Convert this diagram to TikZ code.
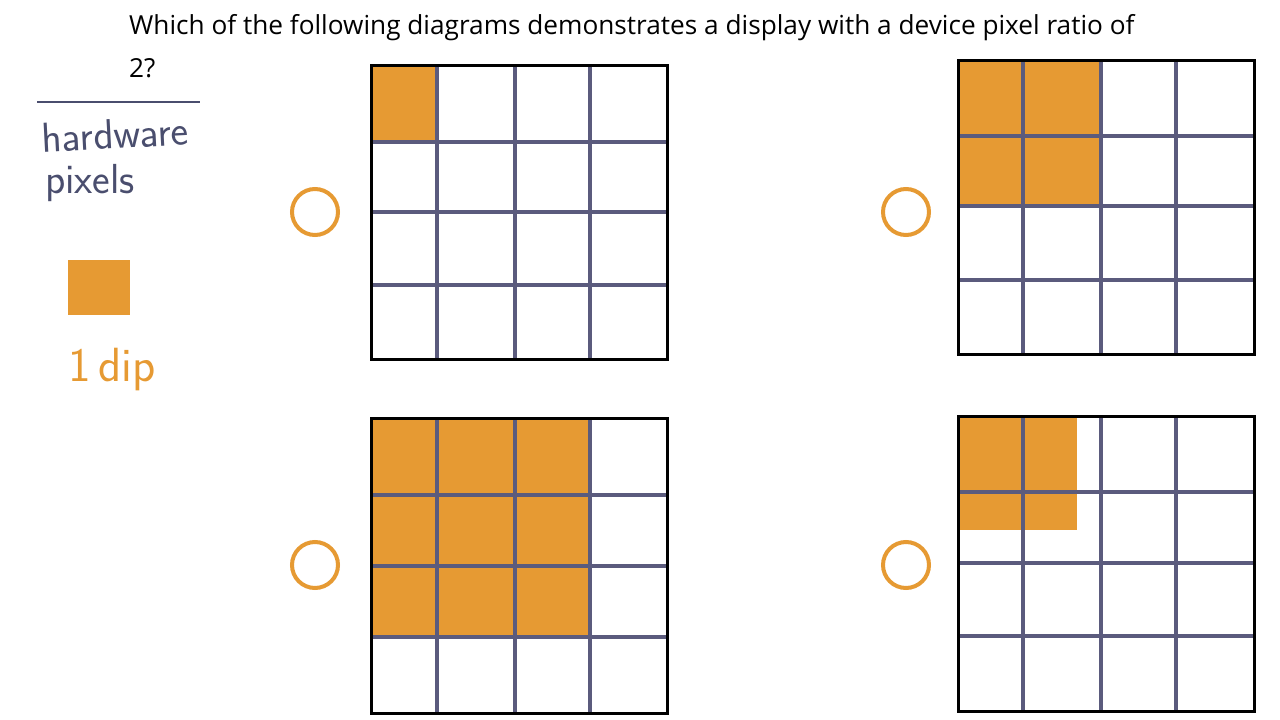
\documentclass[tikz,border=0pt]{standalone}
\usepackage{fontspec}
\setmainfont{Open Sans}
\definecolor{org}{HTML}{E69A33}
\definecolor{gridc}{HTML}{5B5B7D}
\definecolor{hand}{HTML}{4A4E6E}
\tikzset{ring/.style={draw=org,line width=4pt,circle,minimum size=46pt,inner sep=0pt},
 inl/.style={draw=gridc,line width=3.5pt},
 outl/.style={draw=black,line width=3pt}}
\newcommand{\gridbox}[7]{% x0 y0 x1 y1 xs(list) ys(list) name
 \draw[inl] foreach \xx in {#5} {(\xx,#2)--(\xx,#4)};
 \draw[inl] foreach \yy in {#6} {(#1,\yy)--(#3,\yy)};
 \node[outl,minimum width=#3pt-#1pt,minimum height=#4pt-#2pt,inner sep=0pt,anchor=north west] (#7) at (#1,#2) {};}
\begin{document}
\begin{tikzpicture}[x=1pt,y=-1pt]
\useasboundingbox (0,0) rectangle (1280,720);
\node[anchor=west,font=\fontsize{26.2}{30}\selectfont,inner sep=0pt] (q1) at (129,28) {Which of the following diagrams demonstrates a display with a device pixel ratio of};
\node[anchor=west,font=\fontsize{26.2}{30}\selectfont,inner sep=0pt] (q2) at (129,68) {2?};
\draw[hand,line width=2.5pt] (37,102)--(200,102);
\node[hand,font=\fontsize{42}{42}\selectfont\sffamily,inner sep=0pt,rotate=3] (hw) at (115,134) {hardware};
\node[hand,font=\fontsize{42}{42}\selectfont\sffamily,inner sep=0pt] (px) at (90,183) {pixels};
\fill[org] (68,260) rectangle (130,315);
\node[org,font=\fontsize{48}{48}\selectfont\sffamily,inner sep=0pt] (dip) at (112,370) {1\,dip};
% orange fills
\fill[org] (372,66) rectangle (436,141);
\fill[org] (959,61) rectangle (1101,205);
\fill[org] (372,419) rectangle (589,637);
\fill[org] (959,417) rectangle (1077,530);
\gridbox{370}{64}{666}{358}{437,515,590}{142,212,285}{g1}
\gridbox{957}{59}{1253}{353}{1023,1101,1176}{136,206,280}{g2}
\gridbox{370}{417}{666}{712}{437,515,590}{495,566,637}{g3}
\gridbox{957}{415}{1253}{710}{1023,1101,1176}{492,563,636}{g4}
\node[ring] (c1) at (315,212) {};
\node[ring] (c2) at (906,212) {};
\node[ring] (c3) at (315,565) {};
\node[ring] (c4) at (906,565) {};
\end{tikzpicture}
\end{document}
